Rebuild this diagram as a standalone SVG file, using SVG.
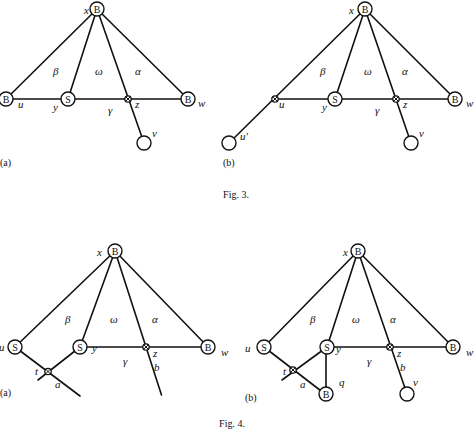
<svg xmlns="http://www.w3.org/2000/svg" width="474" height="430" viewBox="0 0 474 430">
<defs>
<style>
.e{stroke:#111;stroke-width:1.6;fill:none;stroke-linecap:round}
.n{fill:#fff;stroke:#111;stroke-width:1.4}
.nt{font-family:"Liberation Serif",serif;font-size:10px;fill:#111;text-anchor:middle}
.l{font-family:"Liberation Serif",serif;font-style:italic;font-size:11px;fill:#111}
.c{font-family:"Liberation Serif",serif;font-size:10px;fill:#111}
.x{fill:#fff;stroke:#111;stroke-width:1.3}
</style>
<g id="xm"><circle class="x" r="3.2"/><path d="M-2.2,-2.2L2.2,2.2M-2.2,2.2L2.2,-2.2" stroke="#111" stroke-width="1"/></g>
</defs>
<rect width="474" height="430" fill="#fff"/>

<!-- connectors -->
<g id="connectors">
<!-- Fig 3a -->
<path class="e" d="M97,9L6,99M97,9L68,99M97,9L144,143M97,9L188,99M6,99L188,99"/>
<!-- Fig 3b -->
<path class="e" d="M365,9L229,143M365,9L335,99M365,9L411,143M365,9L455,99M275,99L455,99"/>
<!-- Fig 4a -->
<path class="e" d="M115,251L15,347M115,251L80,347M115,251L161.5,395M115,251L208,347M80,347L208,347M15,347L80,396M80,347L38,380"/>
<!-- Fig 4b -->
<path class="e" d="M358,251L264,347M358,251L327,347M358,251L407,394M358,251L453,347M327,347L453,347M264,347L325,394M327,347L282,380M326,347L326,394"/>
</g>

<!-- Fig 3a nodes -->
<g id="f3a-x"><circle class="n" cx="97" cy="9" r="7"/><text class="nt" x="97" y="12.5">B</text></g>
<g id="f3a-u"><circle class="n" cx="6" cy="99" r="7"/><text class="nt" x="6" y="102.5">B</text></g>
<g id="f3a-y"><circle class="n" cx="68" cy="99" r="7"/><text class="nt" x="68" y="102.5">S</text></g>
<g id="f3a-z"><use href="#xm" x="128" y="99"/></g>
<g id="f3a-w"><circle class="n" cx="188" cy="99" r="7"/><text class="nt" x="188" y="102.5">B</text></g>
<g id="f3a-v"><circle class="n" cx="144" cy="143" r="7"/></g>

<!-- Fig 3b nodes -->
<g id="f3b-x"><circle class="n" cx="365" cy="9" r="7"/><text class="nt" x="365" y="12.5">B</text></g>
<g id="f3b-u"><use href="#xm" x="275" y="99"/></g>
<g id="f3b-y"><circle class="n" cx="335" cy="99" r="7"/><text class="nt" x="335" y="102.5">S</text></g>
<g id="f3b-z"><use href="#xm" x="396" y="99"/></g>
<g id="f3b-w"><circle class="n" cx="455" cy="99" r="7"/><text class="nt" x="455" y="102.5">B</text></g>
<g id="f3b-v"><circle class="n" cx="411" cy="143" r="7"/></g>
<g id="f3b-u2"><circle class="n" cx="229" cy="143" r="7"/></g>

<!-- Fig 4a nodes -->
<g id="f4a-x"><circle class="n" cx="115" cy="251" r="7"/><text class="nt" x="115" y="254.5">B</text></g>
<g id="f4a-u"><circle class="n" cx="15" cy="347" r="7"/><text class="nt" x="15" y="350.5">S</text></g>
<g id="f4a-y"><circle class="n" cx="80" cy="347" r="7"/><text class="nt" x="80" y="350.5">S</text></g>
<g id="f4a-z"><use href="#xm" x="146" y="347"/></g>
<g id="f4a-w"><circle class="n" cx="208" cy="347" r="7"/><text class="nt" x="208" y="350.5">B</text></g>
<g id="f4a-t"><use href="#xm" x="48" y="371.5"/></g>

<!-- Fig 4b nodes -->
<g id="f4b-x"><circle class="n" cx="358" cy="251" r="7"/><text class="nt" x="358" y="254.5">B</text></g>
<g id="f4b-u"><circle class="n" cx="264" cy="347" r="7"/><text class="nt" x="264" y="350.5">S</text></g>
<g id="f4b-y"><circle class="n" cx="327" cy="347" r="7"/><text class="nt" x="327" y="350.5">S</text></g>
<g id="f4b-z"><use href="#xm" x="390" y="347"/></g>
<g id="f4b-w"><circle class="n" cx="453" cy="347" r="7"/><text class="nt" x="453" y="350.5">B</text></g>
<g id="f4b-t"><use href="#xm" x="293" y="370"/></g>
<g id="f4b-q"><circle class="n" cx="326" cy="394" r="7"/><text class="nt" x="326" y="397.5">B</text></g>
<g id="f4b-v"><circle class="n" cx="407" cy="394" r="7"/></g>

<!-- labels -->
<g id="labels">
<text class="l" x="84" y="14">x</text>
<text class="l" x="53" y="75">β</text>
<text class="l" x="95" y="75">ω</text>
<text class="l" x="135" y="75">α</text>
<text class="l" x="18" y="108">u</text>
<text class="l" x="53" y="111">y</text>
<text class="l" x="135" y="108">z</text>
<text class="l" x="108" y="114">γ</text>
<text class="l" x="198" y="107">w</text>
<text class="l" x="152" y="137">v</text>
<text class="c" x="0" y="166">(a)</text>

<text class="l" x="349" y="14">x</text>
<text class="l" x="320" y="75">β</text>
<text class="l" x="364" y="75">ω</text>
<text class="l" x="402" y="75">α</text>
<text class="l" x="279" y="108">u</text>
<text class="l" x="322" y="111">y</text>
<text class="l" x="403" y="108">z</text>
<text class="l" x="375" y="114">γ</text>
<text class="l" x="466" y="107">w</text>
<text class="l" x="419" y="137">v</text>
<text class="l" x="240" y="140">u′</text>
<text class="c" x="223" y="166">(b)</text>

<text class="c" x="236" y="198" text-anchor="middle">Fig. 3.</text>

<text class="l" x="97" y="256">x</text>
<text class="l" x="65" y="323">β</text>
<text class="l" x="110" y="323">ω</text>
<text class="l" x="152" y="323">α</text>
<text class="l" x="-1" y="351">u</text>
<text class="l" x="92" y="352">y</text>
<text class="l" x="153" y="357">z</text>
<text class="l" x="123" y="365">γ</text>
<text class="l" x="154" y="371">b</text>
<text class="l" x="221" y="356">w</text>
<text class="l" x="35" y="375">t</text>
<text class="l" x="55" y="388">a</text>
<text class="c" x="0" y="396">(a)</text>

<text class="l" x="343" y="256">x</text>
<text class="l" x="310" y="323">β</text>
<text class="l" x="352" y="323">ω</text>
<text class="l" x="390" y="323">α</text>
<text class="l" x="245" y="352">u</text>
<text class="l" x="336" y="353">y</text>
<text class="l" x="397" y="357">z</text>
<text class="l" x="367" y="365">γ</text>
<text class="l" x="400" y="371">b</text>
<text class="l" x="466" y="356">w</text>
<text class="l" x="283" y="375">t</text>
<text class="l" x="300" y="388">a</text>
<text class="l" x="339" y="386">q</text>
<text class="l" x="413" y="386">v</text>
<text class="c" x="245" y="401">(b)</text>

<text class="c" x="232" y="427" text-anchor="middle">Fig. 4.</text>
</g>
</svg>
